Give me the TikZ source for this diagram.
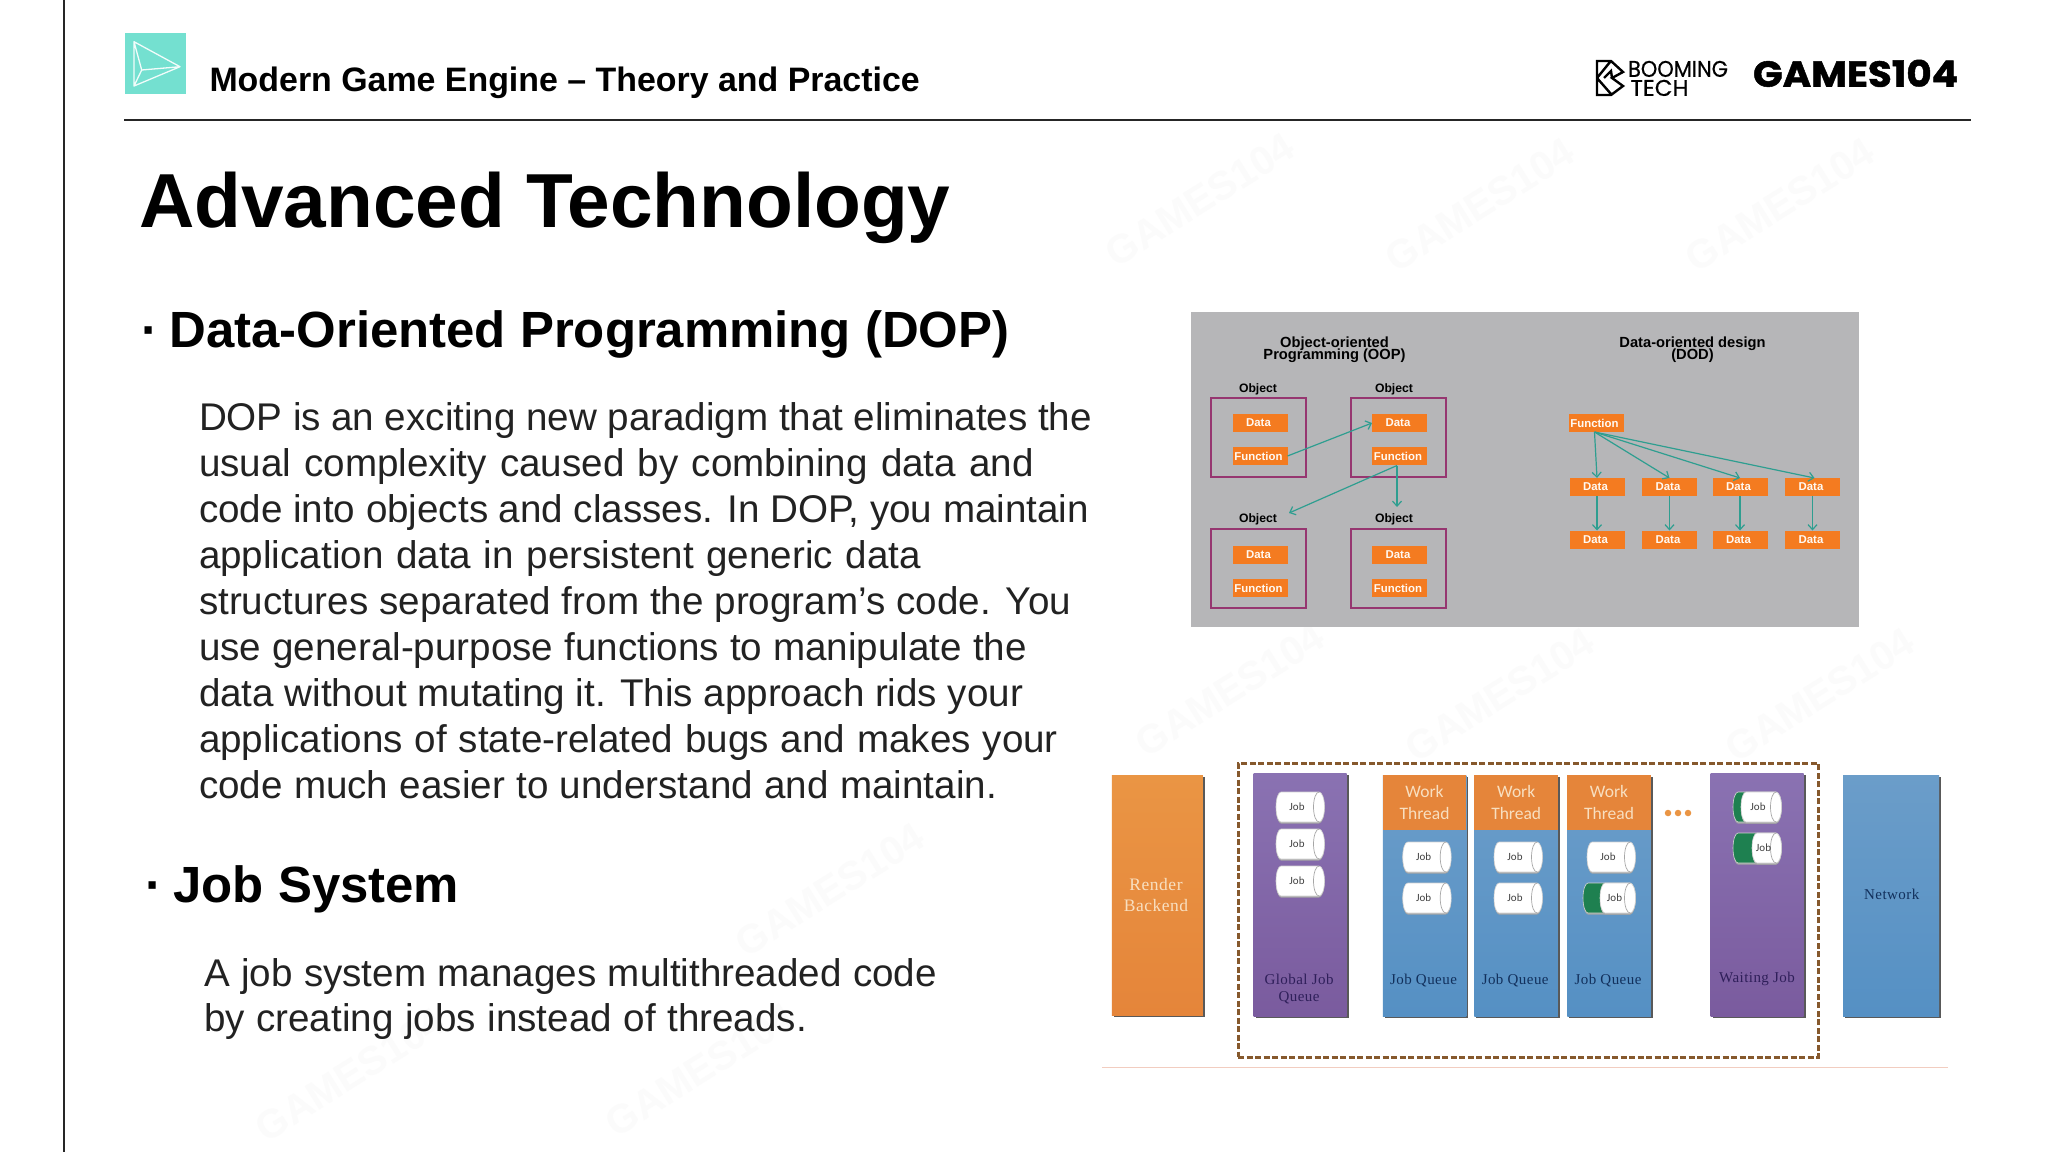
\documentclass[tikz,border=0pt]{standalone}
\usepackage{fontspec}
\setmainfont{Liberation Sans}
\newfontfamily\carlito{Carlito}
\newfontfamily\lserif{Liberation Serif}[LetterSpace=3]
\newfontfamily\popp{Poppins}[FakeBold=0.5]
\newfontfamily\poppb{Poppins}[FakeBold=1.2]
\usetikzlibrary{arrows.meta,shadows,calc}
\definecolor{teal1}{HTML}{2E9E90}
\definecolor{orsmall}{HTML}{F47B20}
\definecolor{magbox}{HTML}{963670}
\definecolor{graybg}{HTML}{B6B6B8}
\definecolor{logoteal}{HTML}{74E0D0}
\definecolor{greenjob}{HTML}{1E8050}
\definecolor{txt}{HTML}{222222}
\definecolor{E9a}{HTML}{EA9544}
\definecolor{E9b}{HTML}{E5853A}
\definecolor{P1}{HTML}{8A72B2}
\definecolor{P2}{HTML}{7A5B9E}
\definecolor{B1}{HTML}{6B9DC9}
\definecolor{B2}{HTML}{5590C4}
\definecolor{purptext}{HTML}{2F1F5A}
\definecolor{bluetext}{HTML}{12305C}
\definecolor{lighttext}{HTML}{F8DFC0}
\newcommand{\fsz}[1]{\fontsize{#1}{#1}\selectfont}
\newcommand{\fitline}[2]{\makebox[#1pt][s]{#2}}
% left x, top y, width, fill, node name, text
\newcommand{\cyl}[6]{%
  \fill[black!35] (#1+5,#2+1.5) -- (#1+#3-5,#2+1.5) arc[start angle=90,end angle=-90,x radius=5.5pt,y radius=15pt]
     -- (#1+5,#2+31.5) arc[start angle=270,end angle=90,x radius=5pt,y radius=15pt] -- cycle;
  \filldraw[fill=#4,draw=black!18,line width=.6pt] (#1+5,#2) -- (#1+#3-5,#2) arc[start angle=90,end angle=-90,x radius=5.5pt,y radius=15pt]
     -- (#1+5,#2+30) arc[start angle=270,end angle=90,x radius=5pt,y radius=15pt] -- cycle;
  \draw[black!35,line width=.7pt] (#1+#3-5,#2) arc[start angle=90,end angle=270,x radius=5.5pt,y radius=15pt];
  \node[jobtext] (#5) at (#1+#3/2-3,#2+14.5) {#6};
}
\tikzset{
  every node/.style={inner sep=0pt,outer sep=0pt},
  wmark/.style={rotate=32,text=black!1.6,font=\fsz{40}\bfseries},
  bodyline/.style={anchor=base west,text=txt,font=\fsz{38.6}},
  headline/.style={anchor=base west,text=black,font=\fsz{50.9}\bfseries},
  dot/.style={anchor=base west,text=black,font=\fsz{50.9}\bfseries},
  smallbox/.style={fill=orsmall,minimum width=55,minimum height=18,text=white!95!orange,font=\fsz{11.4}\bfseries,execute at begin node=\hspace*{-3pt}},
  objbox/.style={draw=magbox,line width=2pt,minimum width=95,minimum height=79},
  objlabel/.style={text=black,font=\fsz{12.2}\bfseries},
  ttl/.style={text=black,font=\fsz{14.7}\bfseries},
  tarrow/.style={draw=teal1,line width=1.2pt,-{Straight Barb[length=5pt,width=9pt]}},
  shade box/.style={general shadow={fill=black!65,shadow xshift=1.8pt,shadow yshift=-1.8pt}},
  orbox/.style={shade box,top color=E9a,bottom color=E9b,minimum width=91,minimum height=240},
  purpbox/.style={shade box,top color=P1,bottom color=P2,minimum width=93,minimum height=243},
  bluebox/.style={top color=B1,bottom color=B2},
  serifdark/.style={text=#1,font=\lserif\fsz{15}},
  workhead/.style={fill=E9b,minimum width=83.5,minimum height=55,text=lighttext,align=center,font=\carlito\fsz{17.5}},
  jobtext/.style={text=black!75,font=\carlito\fsz{11}},
}
\begin{document}
\begin{tikzpicture}[x=1pt,y=-1pt]
\useasboundingbox (0,0) rectangle (2048,1152);
\fill[white] (0,0) rectangle (2048,1152);
% watermarks
\foreach \xx/\yy [count=\i] in {1200/200,1480/205,1780/205,1230/690,1500/695,1820/695,830/890,700/1070,350/1075}{
  \node[wmark] (wm\i) at (\xx,\yy) {GAMES104};
}
% frame lines
\coordinate (lt) at (64,0); \coordinate (lb) at (64,1152);
\draw[black!85,line width=2pt] (lt) -- (lb);
\coordinate (hl) at (124,119.5); \coordinate (hr) at (1970.5,119.5);
\draw[black!85,line width=2pt] (hl) -- (hr);
% logo
\node[fill=logoteal,minimum width=60.5,minimum height=60.5] (logo) at (155.3,63.3) {};
\draw[white!90!logoteal,line width=1.3pt,line join=round]
  (134,41.7) -- (180,66.7) -- (134,86) -- cycle
  (141.7,70) -- (134,41.7) (141.7,70) -- (180,66.7) (141.7,70) -- (134,86);
% header
\node[anchor=base west,text=black,font=\fsz{33.9}\bfseries] (hdr) at (209.5,91) {Modern Game Engine – Theory and Practice};
\draw[black,line width=2.4pt,line join=miter]
  (1597,61) -- (1611,61) -- (1623,72) -- (1612,78) -- (1623,86) -- (1611,95) -- (1597,95) -- cycle
  (1597,78) -- (1610,62) (1597,78) -- (1611,94) (1604,78) -- (1611,71) -- (1612,78);
\node[anchor=south west] (bm) at (1628,77) {\resizebox{100pt}{16pt}{\popp\fsz{20}BOOMING}};
\node[anchor=south west] (bt) at (1630.5,96) {\resizebox{58pt}{16pt}{\popp\fsz{20}TECH}};
\node[anchor=south west] (g104) at (1753,87) {\resizebox{205pt}{27pt}{\poppb\fsz{30}\bfseries GAMES104}};
% titles
\node[anchor=base west,text=black,font=\fsz{76.6}\bfseries] (title) at (139,227) {Advanced Technology};
\node[dot] (b1) at (141,347) {·};
\node[headline] (h1) at (169.5,347) {Data-Oriented Programming (DOP)};
\node[dot] (b2) at (145,902) {·};
\node[headline] (h2) at (173.5,902) {Job System};
% body
\node[bodyline] (l1) at (199,430) {\fitline{893}{DOP is an exciting new paradigm that eliminates the}};
\node[bodyline] (l2) at (199,476) {\fitline{835}{usual complexity caused by combining data and}};
\node[bodyline] (l3) at (199,522) {\fitline{890}{code into objects and classes. In DOP, you maintain}};
\node[bodyline] (l4) at (199,568) {\fitline{722}{application data in persistent generic data}};
\node[bodyline] (l5) at (199,614) {\fitline{872}{structures separated from the program’s code. You}};
\node[bodyline] (l6) at (199,660) {\fitline{828}{use general-purpose functions to manipulate the}};
\node[bodyline] (l7) at (199,706) {\fitline{824}{data without mutating it. This approach rids your}};
\node[bodyline] (l8) at (199,752) {\fitline{859}{applications of state-related bugs and makes your}};
\node[bodyline] (l9) at (199,798) {\fitline{798}{code much easier to understand and maintain.}};
\node[bodyline] (m1) at (204,986) {\fitline{733}{A job system manages multithreaded code}};
\node[bodyline] (m2) at (204,1031) {\fitline{603}{by creating jobs instead of threads.}};
% OOP / DOD panel
\node[fill=graybg,minimum width=668,minimum height=315] (panel) at (1525,469.5) {};
\node[ttl] (t1) at (1334.5,344) {Object-oriented};
\node[ttl] (t2) at (1334.5,355.5) {Programming (OOP)};
\node[ttl] (t3) at (1692.5,344) {Data-oriented design};
\node[ttl] (t4) at (1692.5,355.5) {(DOD)};
\node[objlabel] (ol1) at (1258,389) {Object};
\node[objlabel] (ol2) at (1394,389) {Object};
\node[objlabel] (ol3) at (1258,519) {Object};
\node[objlabel] (ol4) at (1394,519) {Object};
\node[objbox] (o1) at (1258,437.5) {};
\node[objbox] (o2) at (1398,437.5) {};
\node[objbox] (o3) at (1258,568.5) {};
\node[objbox] (o4) at (1398,568.5) {};
\node[smallbox] (d1) at (1260,423) {Data};
\node[smallbox] (f1) at (1260,456) {Function};
\node[smallbox] (d2) at (1399.5,423) {Data};
\node[smallbox] (f2) at (1399.5,456) {Function};
\node[smallbox] (d3) at (1260,554.5) {Data};
\node[smallbox] (f3) at (1260,588) {Function};
\node[smallbox] (d4) at (1399.5,554.5) {Data};
\node[smallbox] (f4) at (1399.5,588) {Function};
\coordinate (e3) at (1289,513);
\coordinate (e4) at (1397,507);
\coordinate (s2) at (1397,465.5);
\draw[tarrow] (f1.east) -- (d2.west);
\draw[tarrow] (s2) -- (e3);
\draw[tarrow] (s2) -- (e4);
\node[smallbox] (F) at (1596,423) {Function};
\foreach \n/\xx in {a/1597,b/1669.5,c/1740,d/1812.5}{
  \node[smallbox] (top\n) at (\xx,487) {Data};
  \node[smallbox] (bot\n) at (\xx,539.5) {Data};
  \draw[tarrow] (top\n.south) -- (bot\n.north);
}
\coordinate (Fs) at (1594.5,432);
\draw[tarrow] (Fs) -- (topa.north);
\draw[tarrow] (Fs) -- (topb.north);
\draw[tarrow] (Fs) -- (topc.north);
\draw[tarrow] (Fs) -- ([xshift=2pt]topd.north);
% Job system diagram
\coordinate (ll) at (1102,1067); \coordinate (lr) at (1948,1067);
\draw[red!30!brown!30,line width=1pt] (ll) -- (lr);
\node[draw=brown!70!black,line width=3pt,dash pattern=on 6pt off 2.5pt,minimum width=580,minimum height=294] (frame) at (1528,910) {};
\node[orbox] (rb) at (1157.3,895) {};
\node[text=lighttext,font=\lserif\fsz{17.5}] at (1156,884) (rb1) {Render};
\node[text=lighttext,font=\lserif\fsz{17.5}] at (1156,905) (rb2) {Backend};
\node[purpbox] (gq) at (1300.2,894.5) {};
\node[serifdark=purptext] (gq1) at (1299,979) {Global Job};
\node[serifdark=purptext] (gq2) at (1299,998) {Queue};
\foreach \n/\xx in {a/1424.5,b/1516.2,c/1609}{
  \node[shade box,bluebox,minimum width=83.5,minimum height=241] (wq\n) at (\xx,895.5) {};
  \node[workhead] (wh\n) at (\xx,802.5) {Work\\[4.5pt]Thread};
  \node[serifdark=bluetext] (wt\n) at (\xx-1,980) {Job Queue};
}
\node[purpbox] (wj) at (1757.2,895) {};
\node[serifdark=purptext] (wjt) at (1757,979) {Waiting Job};
\node[shade box,bluebox,minimum width=96,minimum height=241] (net) at (1891,895.5) {};
\node[serifdark=bluetext] (nett) at (1891.7,894) {Network};
% dots
\foreach \i/\xx in {1/1668,2/1678,3/1688}{
  \node[circle,fill=E9a,minimum size=6.5] (dot\i) at (\xx,813) {};
}
% jobs
\cyl{1276}{792}{48}{white}{g1}{Job}
\cyl{1276}{829}{48}{white}{g2}{Job}
\cyl{1276}{866}{48}{white}{g3}{Job}
\cyl{1402.7}{842}{48}{white}{j1a}{Job}
\cyl{1402.7}{883}{48}{white}{j2a}{Job}
\cyl{1494}{842}{48}{white}{j1b}{Job}
\cyl{1494}{883}{48}{white}{j2b}{Job}
\cyl{1587}{842}{48}{white}{j1c}{Job}
\cyl{1583}{883}{52}{greenjob}{gc3}{}
\cyl{1600}{883}{35}{white}{j2c}{Job}
\cyl{1733}{792}{48}{greenjob}{gc1}{}
\cyl{1741}{792}{40}{white}{w1}{Job}
\cyl{1733}{833}{48}{greenjob}{gc2}{}
\cyl{1752}{833}{29}{white}{w2}{Job}
\end{tikzpicture}
\end{document}
